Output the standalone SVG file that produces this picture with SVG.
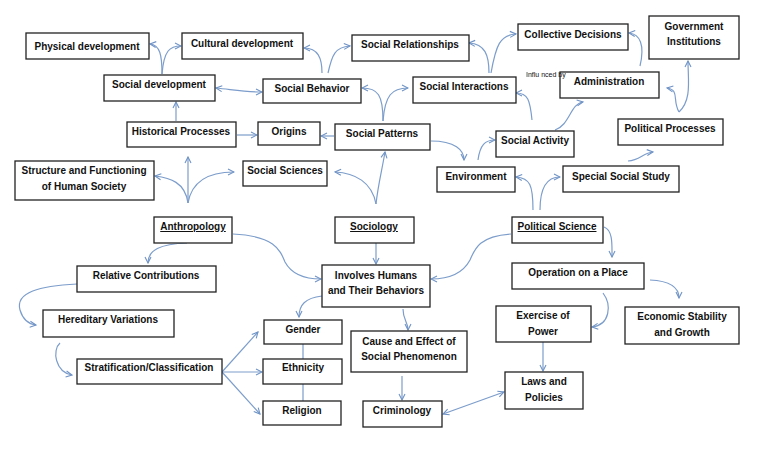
<svg xmlns="http://www.w3.org/2000/svg" width="768" height="466" viewBox="0 0 768 466">
<defs>
<marker id="a" viewBox="0 0 8 8" refX="7" refY="4" markerWidth="8" markerHeight="8" markerUnits="userSpaceOnUse" orient="auto-start-reverse"><path d="M1,1 L7,4 L1,7" fill="none" stroke="#6f93c6" stroke-width="1.1"/></marker>
</defs>
<style>
rect{fill:#fff;stroke:#222;stroke-width:1.3}
text{font-family:"Liberation Sans",Arial,sans-serif;font-weight:bold;font-size:10px;fill:#111;text-anchor:middle}
.u{text-decoration:underline}
#conn path{fill:none;stroke:#7c9dcb;stroke-width:1.2}
.e{marker-end:url(#a)}
.b{marker-start:url(#a);marker-end:url(#a)}
</style>
<rect x="0" y="0" width="768" height="466" style="fill:#fff;stroke:none"/>
<g id="conn">
<path class="e" d="M162,74 C162,55 160,45 150,44"/>
<path class="e" d="M162,74 C164,50 170,46 181,46"/>
<path class="b" d="M216,88 C235,90 245,92 262,92"/>
<path class="e" d="M176,121 L176,102"/>
<path class="e" d="M237,135 L257,135"/>
<path class="e" d="M334,136 L321,136"/>
<path class="e" d="M322,73 C322,58 318,48 304,48"/>
<path class="e" d="M328,73 C332,55 335,47 350,46"/>
<path class="e" d="M383,121 C383,95 378,88 362,88"/>
<path class="e" d="M383,121 C385,95 392,88 408,88"/>
<path class="e" d="M489,73 C489,55 485,44 469,43"/>
<path class="e" d="M491,73 C496,45 500,35 516,34"/>
<path class="e" d="M640,66 C645,45 640,34 629,33"/>
<path class="e" d="M532,120 C530,100 528,93 516,93"/>
<path class="e" d="M555,130 C570,125 570,104 583,102"/>
<path class="e" d="M679,112 C692,100 688,80 688,61"/>
<path class="e" d="M679,112 C672,100 680,90 667,88"/>
<path class="e" d="M628,161 C640,160 643,153 653,152"/>
<path class="e" d="M431,141 C455,141 464,150 464,160"/>
<path class="e" d="M478,160 C480,145 485,140 495,140"/>
<path class="e" d="M533,210 C533,185 530,178 516,177"/>
<path class="e" d="M540,210 C540,185 548,177 560,177"/>
<path class="e" d="M188,203 L188,157"/>
<path class="e" d="M188,203 C185,182 170,178 155,176"/>
<path class="e" d="M188,203 C192,180 210,172 234,172"/>
<path class="e" d="M376,204 C378,185 382,170 385,152"/>
<path class="e" d="M376,204 C372,182 355,173 335,172"/>
<path class="e" d="M187,243 C160,244 148,250 148,263"/>
<path class="e" d="M233,234 C275,236 280,250 285,262 C292,275 305,279 321,279"/>
<path class="e" d="M376,243 L376,264"/>
<path class="e" d="M77,284 C40,286 15,292 20,310 C23,320 28,324 36,325"/>
<path class="e" d="M60,343 C52,350 55,372 72,375"/>
<path class="e" d="M222,372 L258,332"/>
<path class="e" d="M222,372 L262,372"/>
<path class="e" d="M222,372 L260,414"/>
<path d="M303,344 L303,359 M303,384 L303,401"/>
<path class="e" d="M322,296 C305,298 299,305 299,317"/>
<path class="e" d="M403,309 C403,320 408,322 408,330"/>
<path class="e" d="M402,376 L402,400"/>
<path class="b" d="M443,414 L504,392"/>
<path class="e" d="M511,234 C480,236 475,248 470,260 C462,275 445,279 431,279"/>
<path class="e" d="M604,227 C613,230 612,245 612,257"/>
<path class="e" d="M603,293 C612,305 610,325 592,327"/>
<path class="e" d="M650,280 C670,281 679,288 679,298"/>
<path class="e" d="M543,342 L543,371"/>
</g>
<g id="n1"><rect x="26" y="33" width="123" height="26"/><text x="87" y="50">Physical development</text></g>
<g id="n2"><rect x="182" y="33" width="121" height="26"/><text x="242" y="47">Cultural development</text></g>
<g id="n3"><rect x="352" y="35" width="117" height="26"/><text x="410" y="48">Social Relationships</text></g>
<g id="n4"><rect x="518" y="24" width="110" height="26"/><text x="573" y="38">Collective Decisions</text></g>
<g id="n5"><rect x="649" y="16" width="90" height="43"/><text x="694" y="30">Government</text><text x="694" y="45">Institutions</text></g>
<g id="n6"><rect x="104" y="75" width="111" height="26"/><text x="159" y="88">Social development</text></g>
<g id="n7"><rect x="263" y="79" width="98" height="24"/><text x="312" y="92">Social Behavior</text></g>
<g id="n8"><rect x="413" y="77" width="103" height="26"/><text x="464" y="90">Social Interactions</text></g>
<g id="n9"><rect x="560" y="72" width="99" height="26"/><text x="609" y="85">Administration</text></g>
<text x="526" y="77" style="font-size:7px;font-weight:normal;text-anchor:start">Influ nced by</text>
<g id="n10"><rect x="127" y="122" width="109" height="25"/><text x="181" y="135">Historical Processes</text></g>
<g id="n11"><rect x="258" y="122" width="62" height="23"/><text x="289" y="135">Origins</text></g>
<g id="n12"><rect x="335" y="124" width="95" height="26"/><text x="382" y="137">Social Patterns</text></g>
<g id="n13"><rect x="618" y="119" width="105" height="26"/><text x="670" y="132">Political Processes</text></g>
<g id="n14"><rect x="496" y="131" width="78" height="26"/><text x="535" y="144">Social Activity</text></g>
<g id="n15"><rect x="15" y="161" width="139" height="39"/><text x="84" y="174">Structure and Functioning</text><text x="84" y="190">of Human Society</text></g>
<g id="n16"><rect x="243" y="161" width="84" height="25"/><text x="285" y="174">Social Sciences</text></g>
<g id="n17"><rect x="437" y="167" width="78" height="25"/><text x="476" y="180">Environment</text></g>
<g id="n18"><rect x="563" y="166" width="116" height="26"/><text x="621" y="180">Special Social Study</text></g>
<g id="n19"><rect x="154" y="217" width="78" height="26"/><text x="193" y="230" class="u">Anthropology</text></g>
<g id="n20"><rect x="335" y="217" width="79" height="26"/><text x="374" y="230" class="u">Sociology</text></g>
<g id="n21"><rect x="512" y="217" width="91" height="26"/><text x="557" y="230" class="u">Political Science</text></g>
<g id="n22"><rect x="77" y="266" width="139" height="26"/><text x="146" y="279">Relative Contributions</text></g>
<g id="n23"><rect x="322" y="265" width="108" height="42"/><text x="376" y="279">Involves Humans</text><text x="376" y="294">and Their Behaviors</text></g>
<g id="n24"><rect x="512" y="263" width="132" height="26"/><text x="578" y="276">Operation on a Place</text></g>
<g id="n25"><rect x="43" y="310" width="131" height="27"/><text x="108" y="323">Hereditary Variations</text></g>
<g id="n26"><rect x="264" y="320" width="78" height="24"/><text x="303" y="333">Gender</text></g>
<g id="n27"><rect x="351" y="331" width="116" height="41"/><text x="409" y="345">Cause and Effect of</text><text x="409" y="360">Social Phenomenon</text></g>
<g id="n28"><rect x="496" y="306" width="95" height="36"/><text x="543" y="319">Exercise of</text><text x="543" y="335">Power</text></g>
<g id="n29"><rect x="625" y="307" width="114" height="37"/><text x="682" y="320">Economic Stability</text><text x="682" y="336">and Growth</text></g>
<g id="n30"><rect x="77" y="359" width="145" height="25"/><text x="149" y="371">Stratification/Classification</text></g>
<g id="n31"><rect x="263" y="359" width="79" height="25"/><text x="303" y="371">Ethnicity</text></g>
<g id="n32"><rect x="505" y="372" width="78" height="37"/><text x="544" y="385">Laws and</text><text x="544" y="401">Policies</text></g>
<g id="n33"><rect x="263" y="401" width="78" height="24"/><text x="302" y="414">Religion</text></g>
<g id="n34"><rect x="363" y="401" width="79" height="26"/><text x="402" y="414">Criminology</text></g>
</svg>
